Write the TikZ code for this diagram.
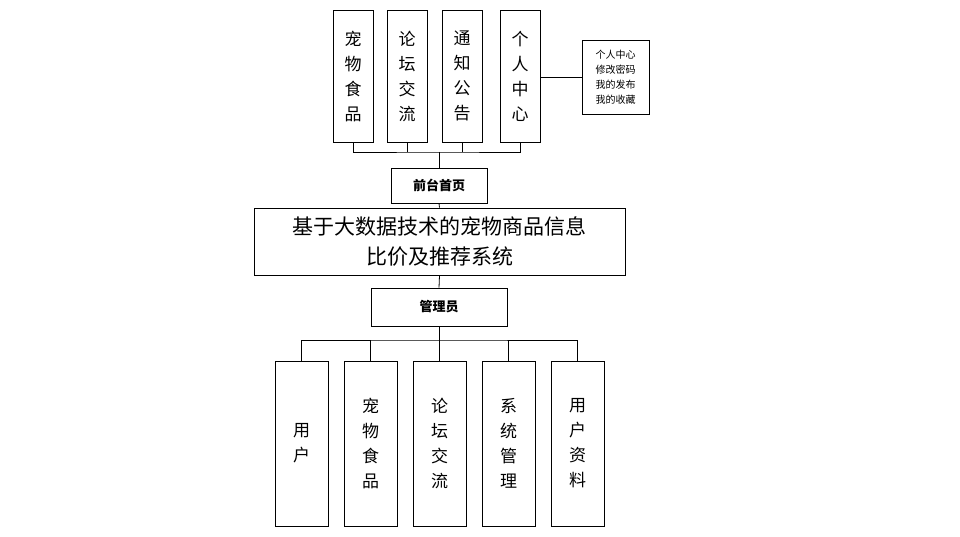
\documentclass[tikz,border=0pt]{standalone}
\usepackage{fontspec}
\setmainfont{Noto Sans CJK SC}
\begin{document}
\begin{tikzpicture}[x=1pt,y=-1pt,
  bx/.style={draw,thick,minimum width=#1,inner sep=0pt,align=center},
  ln/.style={thick}]
\useasboundingbox (0,0) rectangle (960,537);
\tikzset{vt/.style={bx=40pt,minimum height=132pt,font=\fontsize{17}{25}\selectfont}}
\node[vt] (a1) at (353,76) {宠\\物\\食\\品};
\node[vt] (a2) at (407,76) {论\\坛\\交\\流};
\node[vt] (a3) at (462,76) {通\\知\\公\\告};
\node[vt] (a4) at (520,76) {个\\人\\中\\心};
\node[bx=67pt,minimum height=74pt,font=\fontsize{10}{15}\selectfont] (s) at (615.5,77) {个人中心\\修改密码\\我的发布\\我的收藏};
\draw[ln] (a4.east |- s) -- (s.west);
\node[bx=96pt,minimum height=35pt,font=\bfseries\fontsize{13}{15}\selectfont] (q) at (439,185.5) {前台首页};
\node[bx=371pt,minimum height=67pt,font=\fontsize{21}{30}\selectfont] (m) at (439.5,241.5) {基于大数据技术的宠物商品信息\\比价及推荐系统};
\node[bx=136pt,minimum height=38pt,font=\bfseries\fontsize{13}{15}\selectfont] (g) at (439,307) {管理员};
\coordinate (t) at (439,152);
\draw[ln] (a1.south) |- (t) -| (a4.south);
\draw[ln] (a2.south) -- (a2.south |- t);
\draw[ln] (a3.south) -- (a3.south |- t);
\draw[ln] (t) -- (q.north);
\draw[ln] (q.south) -- (m.north);
\draw[ln] (m.south) -- (g.north);
\tikzset{vb/.style={bx=53pt,minimum height=165pt,font=\fontsize{17}{25}\selectfont}}
\node[vb] (b1) at (301.5,443.5) {用\\户};
\node[vb] (b2) at (370.5,443.5) {宠\\物\\食\\品};
\node[vb] (b3) at (439.5,443.5) {论\\坛\\交\\流};
\node[vb] (b4) at (508.5,443.5) {系\\统\\管\\理};
\node[vb] (b5) at (577.5,443.5) {用\\户\\资\\料};
\coordinate (u) at (439,340);
\draw[ln] (g.south) -- (u);
\draw[ln] (b1.north) |- (u) -| (b5.north);
\draw[ln] (b2.north) -- (b2.north |- u);
\draw[ln] (b3.north) -- (b3.north |- u);
\draw[ln] (b4.north) -- (b4.north |- u);
\end{tikzpicture}
\end{document}
